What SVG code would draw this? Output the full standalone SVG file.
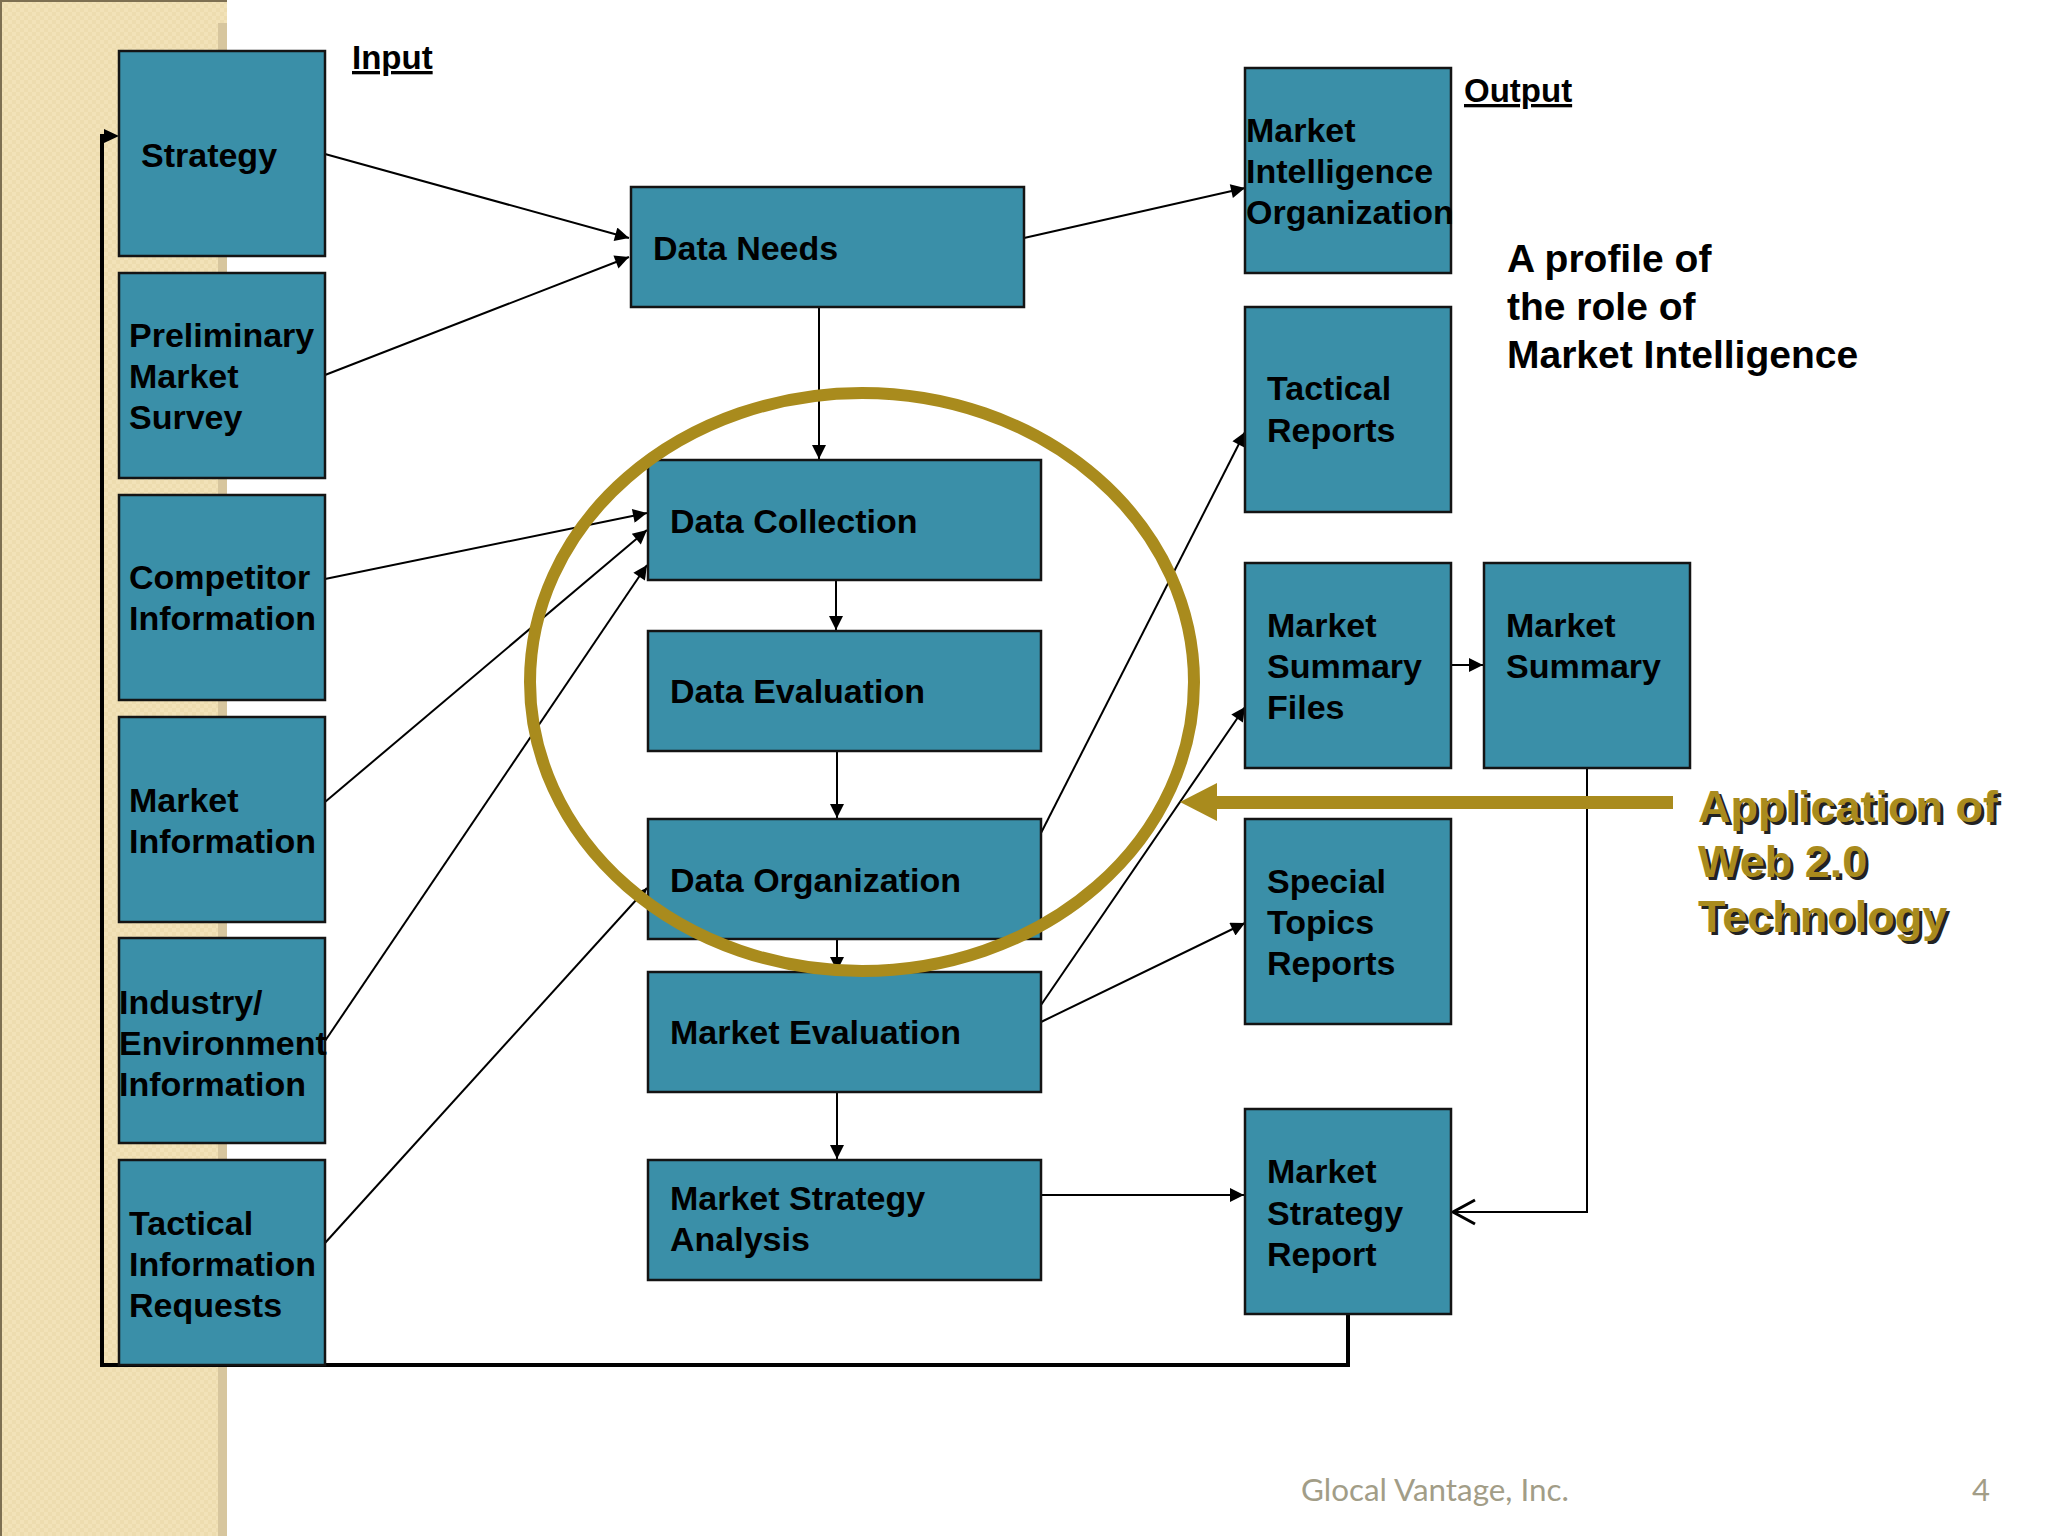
<svg xmlns="http://www.w3.org/2000/svg" width="2048" height="1536" viewBox="0 0 2048 1536">
<style>
.box{fill:#3A8FA8;stroke:#141414;stroke-width:2.5}
.t{font-family:"Liberation Sans",Arial,sans-serif;font-weight:bold;font-size:34px;fill:#000}
.lbl{font-family:"Liberation Sans",Arial,sans-serif;font-weight:bold;font-size:33px;fill:#000;text-decoration:underline}
.big{font-family:"Liberation Sans",Arial,sans-serif;font-weight:bold;font-size:39px;fill:#000}
.gold{font-family:"Liberation Sans",Arial,sans-serif;font-weight:bold;font-size:45px}
.foot{font-family:Lato,"Open Sans",sans-serif;font-size:31px;fill:#A29D87}
.c{fill:none;stroke:#000;stroke-width:2}
</style>
<defs>
<pattern id="tex" width="8" height="8" patternUnits="userSpaceOnUse">
<rect width="8" height="8" fill="#F2E2B8"/>
<rect width="4" height="4" fill="#EDDCAF"/>
<rect x="4" y="4" width="4" height="4" fill="#EDDCAF"/>
</pattern>
<marker id="ah" viewBox="0 0 10 10" refX="10" refY="5" markerWidth="17" markerHeight="14" markerUnits="userSpaceOnUse" orient="auto">
<path d="M0,0 L10,5 L0,10 z" fill="#000"/>
</marker>
</defs>
<rect x="0" y="0" width="2048" height="1536" fill="#FFFFFF"/>
<g id="sidebar">
<rect x="0" y="0" width="227" height="1536" fill="url(#tex)"/>
<rect x="218" y="23" width="9" height="1513" fill="#D7C69E"/>
<path d="M1,1536 V1 H227" fill="none" stroke="#7d6f52" stroke-width="2"/>
</g>

<g id="connectors">
<line class="c" x1="325" y1="154" x2="629" y2="238" marker-end="url(#ah)"/>
<line class="c" x1="325" y1="375" x2="629" y2="257" marker-end="url(#ah)"/>
<line class="c" x1="325" y1="579" x2="647" y2="513" marker-end="url(#ah)"/>
<line class="c" x1="325" y1="802" x2="647" y2="530" marker-end="url(#ah)"/>
<line class="c" x1="325" y1="1041" x2="647" y2="565" marker-end="url(#ah)"/>
<line class="c" x1="325" y1="1243" x2="647" y2="888" marker-end="url(#ah)"/>
<line class="c" x1="819" y1="307" x2="819" y2="459" marker-end="url(#ah)"/>
<line class="c" x1="836" y1="580" x2="836" y2="630" marker-end="url(#ah)"/>
<line class="c" x1="837" y1="751" x2="837" y2="818" marker-end="url(#ah)"/>
<line class="c" x1="837" y1="939" x2="837" y2="971" marker-end="url(#ah)"/>
<line class="c" x1="837" y1="1092" x2="837" y2="1159" marker-end="url(#ah)"/>
<line class="c" x1="1024" y1="238" x2="1245" y2="188" marker-end="url(#ah)"/>
<line class="c" x1="1041" y1="833" x2="1245" y2="432" marker-end="url(#ah)"/>
<line class="c" x1="1041" y1="1005" x2="1245" y2="707" marker-end="url(#ah)"/>
<line class="c" x1="1041" y1="1022" x2="1245" y2="923" marker-end="url(#ah)"/>
<line class="c" x1="1041" y1="1195" x2="1244" y2="1195" marker-end="url(#ah)"/>
<line class="c" x1="1451" y1="665" x2="1483" y2="665" marker-end="url(#ah)"/>
<path class="c" d="M1587,768 V1212 H1453"/>
<path d="M1475,1200 L1453,1212 L1475,1224" fill="none" stroke="#000" stroke-width="3"/>
<path d="M1348,1314 V1365 H102 V136 H106" fill="none" stroke="#000" stroke-width="4"/>
<path d="M104,129 L119,136 L104,143 z" fill="#000"/>
</g>

<g id="n-strategy"><rect class="box" x="119" y="51" width="206" height="205"/><text class="t" x="141" y="167">Strategy</text></g>
<g id="n-prelim"><rect class="box" x="119" y="273" width="206" height="205"/><text class="t" x="129" y="347">Preliminary</text><text class="t" x="129" y="388">Market</text><text class="t" x="129" y="429">Survey</text></g>
<g id="n-competitor"><rect class="box" x="119" y="495" width="206" height="205"/><text class="t" x="129" y="589">Competitor</text><text class="t" x="129" y="630">Information</text></g>
<g id="n-market"><rect class="box" x="119" y="717" width="206" height="205"/><text class="t" x="129" y="812">Market</text><text class="t" x="129" y="853">Information</text></g>
<g id="n-industry"><rect class="box" x="119" y="938" width="206" height="205"/><text class="t" x="119" y="1014">Industry/</text><text class="t" x="119" y="1055">Environment</text><text class="t" x="119" y="1096">Information</text></g>
<g id="n-tactical-req"><rect class="box" x="119" y="1160" width="206" height="205"/><text class="t" x="129" y="1235">Tactical</text><text class="t" x="129" y="1276">Information</text><text class="t" x="129" y="1317">Requests</text></g>

<g id="n-data-needs"><rect class="box" x="631" y="187" width="393" height="120"/><text class="t" x="653" y="260">Data Needs</text></g>
<g id="n-data-collection"><rect class="box" x="648" y="460" width="393" height="120"/><text class="t" x="670" y="533">Data Collection</text></g>
<g id="n-data-evaluation"><rect class="box" x="648" y="631" width="393" height="120"/><text class="t" x="670" y="703">Data Evaluation</text></g>
<g id="n-data-organization"><rect class="box" x="648" y="819" width="393" height="120"/><text class="t" x="670" y="892">Data Organization</text></g>
<g id="n-market-evaluation"><rect class="box" x="648" y="972" width="393" height="120"/><text class="t" x="670" y="1044">Market Evaluation</text></g>
<g id="n-msa"><rect class="box" x="648" y="1160" width="393" height="120"/><text class="t" x="670" y="1210">Market Strategy</text><text class="t" x="670" y="1251">Analysis</text></g>

<g id="n-mio"><rect class="box" x="1245" y="68" width="206" height="205"/><text class="t" x="1246" y="142">Market</text><text class="t" x="1246" y="183">Intelligence</text><text class="t" x="1246" y="224">Organization</text></g>
<g id="n-tactical-reports"><rect class="box" x="1245" y="307" width="206" height="205"/><text class="t" x="1267" y="400">Tactical</text><text class="t" x="1267" y="442">Reports</text></g>
<g id="n-msf"><rect class="box" x="1245" y="563" width="206" height="205"/><text class="t" x="1267" y="637">Market</text><text class="t" x="1267" y="678">Summary</text><text class="t" x="1267" y="719">Files</text></g>
<g id="n-ms"><rect class="box" x="1484" y="563" width="206" height="205"/><text class="t" x="1506" y="637">Market</text><text class="t" x="1506" y="678">Summary</text></g>
<g id="n-special"><rect class="box" x="1245" y="819" width="206" height="205"/><text class="t" x="1267" y="893">Special</text><text class="t" x="1267" y="934">Topics</text><text class="t" x="1267" y="975">Reports</text></g>
<g id="n-msr"><rect class="box" x="1245" y="1109" width="206" height="205"/><text class="t" x="1267" y="1183">Market</text><text class="t" x="1267" y="1225">Strategy</text><text class="t" x="1267" y="1266">Report</text></g>

<g id="labels">
<text class="lbl" x="352" y="69">Input</text>
<text class="lbl" x="1464" y="102">Output</text>
<text class="big" x="1507" y="272">A profile of</text>
<text class="big" x="1507" y="320">the role of</text>
<text class="big" x="1507" y="368">Market Intelligence</text>
</g>

<g id="highlight">
<ellipse cx="862" cy="682" rx="332" ry="289" fill="none" stroke="#A98B1D" stroke-width="12"/>
<rect x="1214" y="796" width="459" height="13" fill="#A98B1D"/>
<path d="M1180,802 L1217,783 L1217,821 z" fill="#A98B1D"/>
<g class="gold" fill="#222">
<text x="1701" y="825">Application of</text>
<text x="1701" y="880">Web 2.0</text>
<text x="1701" y="935">Technology</text>
</g>
<g class="gold" fill="#A98B1D">
<text x="1698" y="822">Application of</text>
<text x="1698" y="877">Web 2.0</text>
<text x="1698" y="932">Technology</text>
</g>
</g>

<g id="footer">
<text class="foot" x="1301" y="1501" textLength="268" lengthAdjust="spacingAndGlyphs">Glocal Vantage, Inc.</text>
<text class="foot" x="1972" y="1501">4</text>
</g>
</svg>
